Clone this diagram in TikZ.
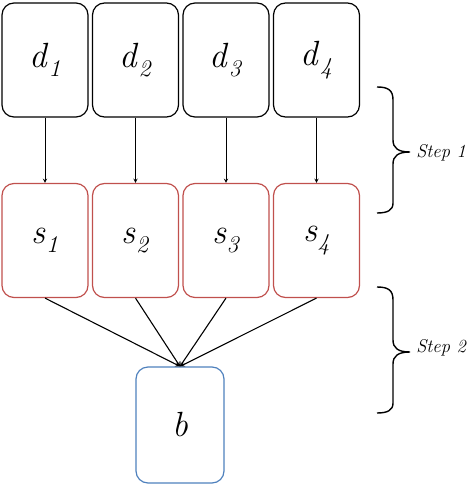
\documentclass[tikz,border=0pt]{standalone}
\usepackage{fontspec}
\usetikzlibrary{arrows, positioning}

\definecolor{sred}{RGB}{192,80,77}
\definecolor{bblue}{RGB}{79,129,189}

\newcommand{\sublbl}[2]{\textit{#1}\raisebox{-0.25em}{\fontsize{24}{26}\selectfont\textit{#2}}}

\begin{document}
\begin{tikzpicture}[> = stealth, % arrow head style
                x = 1pt, y = -1pt, % pixel like units
                node distance = 90.5pt, % distance between boxes
                semithick % line style
            ]

            \tikzstyle{every node}=[font=\fontsize{35}{38}\selectfont]
            \tikzstyle{cell}=[rounded corners = 12pt, minimum width = 86pt,
            minimum height = 114pt, line width = 1.2pt]
            \tikzstyle{dcell}=[cell, draw = black]
            \tikzstyle{scell}=[cell, draw = sred]
            \tikzstyle{bcell}=[cell, draw = bblue, minimum width = 88pt,
            minimum height = 116pt]
            \tikzstyle{brc}=[line width = 1.4pt]
            \tikzstyle{steplabel}=[font=\fontsize{18.5}{20}\selectfont\itshape,
            anchor = west, inner sep = 0pt]

            \useasboundingbox (0,0) rectangle (474,486);

            \node (d1) [dcell] at (45,60) {\sublbl{d}{1}};
            \node (d2) [dcell, right of=d1] {\sublbl{d}{2}};
            \node (d3) [dcell, right of=d2] {\sublbl{d}{3}};
            \node (d4) [dcell, right of=d3] {\sublbl{d}{4}};

            \node (s1) [scell] at (45,240.5) {\sublbl{s}{1}};
            \node (s2) [scell, right of=s1] {\sublbl{s}{2}};
            \node (s3) [scell, right of=s2] {\sublbl{s}{3}};
            \node (s4) [scell, right of=s3] {\sublbl{s}{4}};

            \node (b) [bcell] at (180,425) {\textit{b}};

            \foreach \i in {1,...,4} {
                \draw[->, line width = 0.9pt] (d\i.south) -- (s\i.north);
                \draw[->, line width = 1.1pt] (s\i.south) -- (b.north);
            }

            % braces
            \foreach \dy in {0,200} {
                \draw[brc, shift = {(0,\dy)}] (377,87)
                    .. controls (388,87) and (393,90) .. (393,100) -- (393,140)
                    .. controls (393,148) and (398,152) .. (410,152)
                    .. controls (398,152) and (393,156) .. (393,164) -- (393,203)
                    .. controls (393,210) and (388,213) .. (377,213);
            }
            \node (step1) [steplabel] at (416,153) {Step 1};
            \node (step2) [steplabel] at (416,348) {Step 2};

        \end{tikzpicture}
\end{document}
